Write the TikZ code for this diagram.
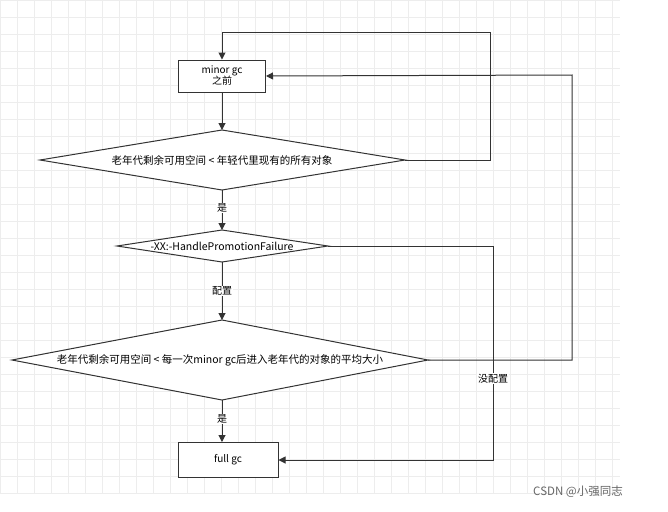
\documentclass[tikz,border=0pt]{standalone}
\usepackage{fontspec}
\setmainfont{Noto Sans CJK SC}
\usetikzlibrary{arrows.meta}
\begin{document}
\begin{tikzpicture}[x=1pt,y=-1pt,
  box/.style={draw=black!80,line width=1pt,fill=white,minimum width=87pt,minimum height=32pt,inner sep=1pt,align=center,font=\fontsize{10}{11}\selectfont},
  dline/.style={draw=black!80,line width=1pt,fill=white},
  txt/.style={inner sep=0pt,font=\fontsize{10.5}{12}\selectfont},
  arr/.style={draw=black!80,line width=1pt,-{Triangle[length=7pt,width=7pt]}},
  lbl/.style={fill=white,inner sep=1pt,font=\fontsize{10}{11}\selectfont}]
\useasboundingbox (0,0) rectangle (668,511);
\fill[white] (0,0) rectangle (668,511);
\foreach \i in {0,17,...,620} \draw[black!7,line width=0.5pt] (\i,0) -- (\i,493);
\foreach \j in {0,17,...,493} \draw[black!7,line width=0.5pt] (0,\j) -- (620,\j);
\node[box] (m) at (222,76) {minor gc\\之前};
\node[box,minimum width=100pt,minimum height=35pt] (f) at (228,460) {full gc};
\coordinate (d1n) at (222,130); \coordinate (d1s) at (222,190);
\coordinate (d1w) at (40,160); \coordinate (d1e) at (405,160);
\draw[dline] (d1n) -- (d1e) -- (d1s) -- (d1w) -- cycle;
\node[txt] (t1) at (222,160) {老年代剩余可用空间 < 年轻代里现有的所有对象};
\coordinate (d2n) at (222,230); \coordinate (d2s) at (222,262);
\coordinate (d2w) at (117,246); \coordinate (d2e) at (328,246);
\draw[dline] (d2n) -- (d2e) -- (d2s) -- (d2w) -- cycle;
\node[txt] (t2) at (222,246) {-XX:-HandlePromotionFailure};
\coordinate (d3n) at (222,320); \coordinate (d3s) at (222,400);
\coordinate (d3w) at (12,360); \coordinate (d3e) at (428,360);
\draw[dline] (d3n) -- (d3e) -- (d3s) -- (d3w) -- cycle;
\node[txt] (t3) at (220,360) {老年代剩余可用空间 < 每一次minor gc后进入老年代的对象的平均大小};
\coordinate (c1) at (490,33);
\coordinate (c2) at (572,75);
\coordinate (c3) at (493,460);
\draw[arr] (m.south) -- (d1n);
\draw[arr] (d1s) -- node[lbl,pos=0.45]{是} (d2n);
\draw[arr] (d2s) -- node[lbl,pos=0.5]{配置} (d3n);
\draw[arr] (d3s) -- node[lbl,pos=0.45]{是} (f.north -| d3s);
\draw[arr] (d1e) -| (c1) -| (m.north);
\draw[arr] (d3e) -| (c2) -- (m.east);
\draw[arr] (d2e) -| node[lbl,pos=0.81]{没配置} (c3) -- (f.east);
\node[font=\fontsize{11.5}{12}\selectfont,text=black!60] (w) at (578,492) {CSDN @小强同志};
\end{tikzpicture}
\end{document}
